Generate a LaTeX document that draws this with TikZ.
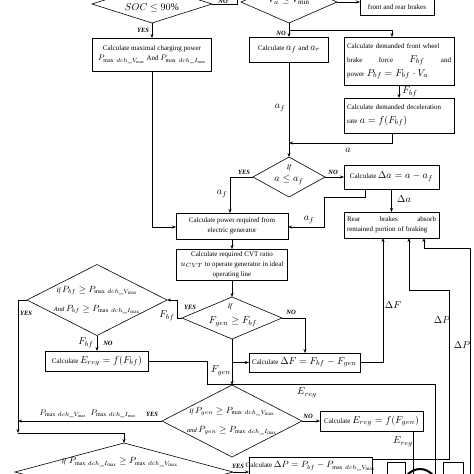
\documentclass[tikz,border=0pt]{standalone}
\usepackage{fontspec}
\setmainfont{Liberation Serif}
\usetikzlibrary{shapes.geometric,arrows.meta}

\newcommand{\PdV}{P_{\max\,dch\_V_{\max}}}
\newcommand{\PdI}{P_{\max\,dch\_I_{\max}}}
\newcommand{\mth}[2][10]{{\fontsize{#1}{#1}\selectfont$#2$}}

\tikzset{every picture/.style={line width=0.6pt}}
\tikzset{
  box/.style={draw, inner sep=1pt, outer sep=0pt, align=center, font=\fontsize{7}{10}\selectfont},
  dia/.style={draw, diamond, inner sep=0pt, outer sep=0pt},
  yn/.style={font=\fontsize{6.5}{6.5}\selectfont\bfseries\itshape, inner sep=0pt},
  lbl/.style={inner sep=0pt},
  arr/.style={-{Stealth[length=4pt,width=3pt]}},
}

\begin{document}
\begin{tikzpicture}[x=1pt,y=1pt,yscale=-1]
\useasboundingbox (0,0) rectangle (474,474);
\clip (0,0) rectangle (474,474);

%Shape: Diamond
\node[dia, minimum width=120, minimum height=38] (soc) at (152,4) {};
\node[lbl] (soct) at (152,8) {\mth{SOC \le 90\%}};
%Shape: Diamond
\node[dia, minimum width=96, minimum height=42] (va) at (289,2) {};
\node[lbl] (vat) at (289,0) {\mth{V_a \le V_{\min}}};
%Shape: Rectangle
\node[box, minimum width=74, minimum height=40] (brk) at (397,-5) {};
\node[lbl, font=\fontsize{7}{8}\selectfont] (brkt) at (397,7) {front and rear brakes};

%Shape: Rectangle
\node[box, minimum width=119, minimum height=33] (maxc) at (152,54.5) {Calculate maximal charging power\\ \mth[8.5]{\PdV} And \mth[8.5]{\PdI}};
%Shape: Rectangle
\node[box, minimum width=79, minimum height=25] (afar) at (289,49.5) {Calculate \mth{a_f} and \mth{a_r}};
%Shape: Rectangle
\node[box, minimum width=110, minimum height=48, text width=104, align=left, font=\fontsize{7}{14}\selectfont] (fbf) at (399,61) {Calculate demanded front wheel\\ brake\hfill force\hfill \mth{F_{bf}}\hfill and\\ power \mth{P_{bf}=F_{bf}\cdot V_a}};
%Shape: Rectangle
\node[box, minimum width=110, minimum height=35, text width=104, align=left, font=\fontsize{7}{14}\selectfont] (decel) at (399,115.5) {Calculate demanded deceleration\\ rate \mth{a=f(F_{bf})}};

%Shape: Diamond
\node[dia, minimum width=72, minimum height=40] (ifa) at (289,177) {};
\node[lbl, font=\fontsize{7}{7}\selectfont\itshape] (ifai) at (289,168) {If};
\node[lbl] (ifat) at (289,180) {\mth{a\le a_f}};
%Shape: Rectangle
\node[box, minimum width=95, minimum height=24] (da) at (391.5,177) {Calculate \mth{\Delta a = a - a_f}};
%Shape: Rectangle
\node[box, minimum width=95, minimum height=26, text width=89, align=left] (rear) at (391.5,225) {Rear\hfill brakes\hfill absorb\\ remained portion of braking};

%Shape: Rectangle
\node[box, minimum width=112, minimum height=26] (pw) at (232,226) {Calculate power required from\\ electric generator};
%Shape: Rectangle
\node[box, minimum width=111, minimum height=31] (cvt) at (232,264.5) {Calculate required CVT ratio\\ \mth[8]{u_{CVT}} to operate generator in ideal\\ operating line};

%Shape: Diamond
\node[dia, minimum width=100, minimum height=42] (fgen) at (232,318) {};
\node[lbl, font=\fontsize{7}{7}\selectfont\itshape] (fgeni) at (230,307) {If};
\node[lbl] (fgent) at (233,322) {\mth{F_{gen}\ge F_{bf}}};
%Shape: Diamond
\node[dia, minimum width=140, minimum height=71] (pbf) at (97,300) {};
\node[lbl, align=center, font=\fontsize{6.5}{19}\selectfont\itshape] (pbft) at (97,300) {If \mth[9]{P_{bf}\ge \PdV}\\ And \mth[9]{P_{bf}\ge \PdI}};

%Shape: Rectangle
\node[box, minimum width=103, minimum height=20] (ereg1) at (97,361) {Calculate \mth{E_{reg}=f(F_{bf})}};
%Shape: Rectangle
\node[box, minimum width=111, minimum height=19] (df) at (304.5,362.5) {Calculate \mth{\Delta F=F_{bf}-F_{gen}}};

%Shape: Diamond
\node[dia, minimum width=140, minimum height=72] (pgen) at (232,421) {};
\node[lbl, align=center, font=\fontsize{6.5}{19}\selectfont\itshape] (pgent) at (232,421) {If \mth[9]{P_{gen}\ge \PdV}\\ and \mth[9]{P_{gen}\ge \PdI}};
%Shape: Rectangle
\node[box, minimum width=103, minimum height=20] (ereg2) at (371.5,421) {Calculate \mth{E_{reg}=f(F_{gen})}};

%Shape: Diamond
\node[dia, minimum width=218, minimum height=58] (pmx) at (124,472) {};
\node[lbl, font=\fontsize{6.5}{7}\selectfont\itshape] (pmxt) at (120,462) {If\ \ \mth[9]{\PdI\ge \PdV}};
%Shape: Rectangle
\node[box, minimum width=123, minimum height=30] (dp) at (310.5,472) {};
\node[lbl, font=\fontsize{7}{7}\selectfont] (dpt) at (310.5,466) {Calculate \mth[9]{\Delta P=P_{bf}-\PdV}};

%Shape: storage
\node[box, minimum width=18, minimum height=28, anchor=north west] (sb1) at (387,462) {};
\node[box, minimum width=20, minimum height=28, anchor=north west] (sb2) at (443,462) {};
\draw[line width=2] (420,492) ellipse (19 and 23);

%Straight Lines
\draw[arr] (soc.south) -- (maxc.north);
\node[yn] (y1) at (143,30) {YES};
\draw (soc.east) -- (237,4) -- (237,-10);
\node[yn] (n1) at (223,1.5) {NO};

\draw[arr] (va.east) -- (va.east -| brk.west);
\coordinate (vaj) at (289,30);
\coordinate (fbfin) at (392,37);
\draw (va.south) -- (vaj);
\draw[arr] (vaj) -- (afar.north);
\draw[arr] (vaj) -| (fbfin);
\node[yn] (n2) at (281,33) {NO};

\draw[arr] (fbf.south) -- (decel.north);
\node[lbl] (lfbf) at (410,92) {\mth{F_{bf}}};

\coordinate (aj) at (392,143);
\draw[arr] (decel.south -| aj) -- (aj) -- (aj -| afar.south);
\node[lbl] (la) at (348,150) {\mth{a}};

\draw[arr] (afar.south) -- (ifa.north);
\node[lbl] (laf1) at (280,108) {\mth{a_f}};

\coordinate (yj) at (230,177);
\draw[arr] (ifa.west) -- (yj) -- (yj |- pw.north);
\node[yn] (y2) at (244,172) {YES};
\node[lbl] (laf2) at (222,194) {\mth{a_f}};

\draw[arr] (ifa.east) -- (da.west);
\node[yn] (n3) at (333,172) {NO};

\draw[arr] (da.south) -- (rear.north);
\node[lbl] (lda) at (404,199) {\mth{\Delta a}};

\coordinate (af1) at (365,197);
\coordinate (af2) at (324,227);
\draw[arr] (da.south -| af1) -- (af1) -| (af2) -- (af2 -| pw.east);
\node[lbl] (laf3) at (309,220) {\mth{a_f}};

\coordinate (mc) at (152,227);
\draw[arr] (maxc.south) -- (mc) -- (mc -| pw.west);

\draw[arr] (pw.south) -- (cvt.north);
\draw[arr] (cvt.south) -- (fgen.north);

\coordinate (fy) at (177,300);
\draw[arr] (fgen.west) -| (fy) -- (pbf.east);
\node[yn] (y3) at (190,307) {YES};
\node[lbl] (lfbf2) at (167,316) {\mth{F_{bf}}};

\draw[arr] (pbf.south) -- (ereg1.north);
\node[lbl] (lfbf3) at (86,343) {\mth{F_{bf}}};
\node[yn] (n4) at (108,343) {NO};

\coordinate (py) at (18,300);
\coordinate (pyb) at (18,433);
\draw[arr] (pbf.west) -- (py) -- (pyb);
\node[yn] (y4) at (26,313) {YES};
\draw[arr] (pyb) -| (pmx.north);

\coordinate (fn) at (305,318);
\draw[arr] (fgen.east) -- (fn) -- (fn |- df.north);
\node[yn] (n5) at (291,312) {NO};

\draw[arr] (fgen.south) -- (pgen.north);
\node[lbl] (lfgen) at (221,371) {\mth{F_{gen}}};
\coordinate (dfj) at (232,362.5);
\draw[arr] (dfj) -- (df.west);

\coordinate (dfo) at (383,362.5);
\draw[arr] (df.east) -- (dfo) -- (dfo |- rear.south);
\node[lbl] (ldf) at (393,305) {\mth{\Delta F}};

\coordinate (e1) at (207,361);
\coordinate (e2) at (207,384);
\coordinate (e3) at (435,384);
\coordinate (e4) at (435,480);
\draw (ereg1.east) -- (e1) -- (e2) -- (e3) -- (e4);
\node[lbl] (lereg1) at (307,393) {\mth{E_{reg}}};

\draw[arr] (pgen.east) -- (ereg2.west);
\node[yn] (n6) at (308,416) {NO};
\coordinate (e5) at (413,480);
\draw (ereg2.south -| e5) -- (e5);
\node[lbl] (lereg2) at (403,442) {\mth{E_{reg}}};

\draw[arr] (pgen.west) -- (pgen.west -| py);
\node[lbl] (lpd) at (88,414) {\mth[8.5]{\PdV\ \ \PdI}};
\node[yn] (y5) at (152,414) {YES};

\draw[arr] (pmx.east) -- (pmx.east -| dp.west);
\node[yn] (y6) at (238,466) {YES};

\coordinate (p1) at (449,459);
\coordinate (p2) at (409,290);
\draw[arr] (p1 -| dp.east) -- (p1) |- (p2) -- (p2 |- rear.south);
\node[lbl] (ldp1) at (442,320) {\mth{\Delta P}};

\coordinate (q1) at (470,480);
\coordinate (q2) at (424,248);
\draw[arr] (q1) |- (q2) -- (q2 |- rear.south);
\node[lbl] (ldp2) at (462,345) {\mth{\Delta P}};

\end{tikzpicture}
\end{document}
